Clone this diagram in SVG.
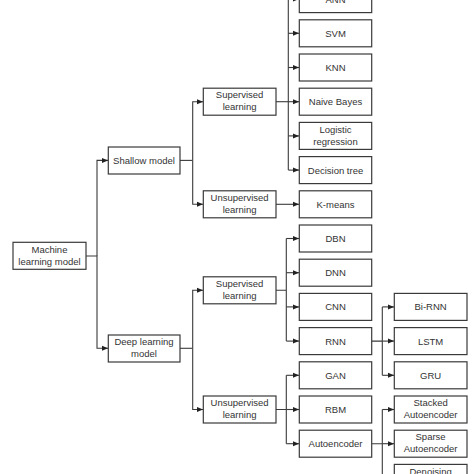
<svg xmlns="http://www.w3.org/2000/svg" width="474" height="474" viewBox="0 0 474 474">
<style>
.b rect{fill:#fff;stroke:#3a3a3a;stroke-width:1.2}
.b text{font-family:"Liberation Sans",Arial,sans-serif;font-size:9.5px;fill:#333;text-anchor:middle}
.c path{fill:none;stroke:#3a3a3a;stroke-width:1.1}
.c path.a{marker-end:url(#ah)}
</style>
<defs>
<marker id="ah" markerUnits="userSpaceOnUse" markerWidth="6" markerHeight="6" refX="6" refY="3" orient="auto">
<path d="M0,0.5 L6,3 L0,5.5 z" fill="#222"/>
</marker>
</defs>
<rect width="474" height="474" fill="#fff"/>
<g class="c">
<path d="M86,256 H97 V348"/>
<path class="a" d="M97,256 V160.4 H108"/>
<path class="a" d="M97,348 V348.3 H108"/>
<path d="M180,160.4 H192.7"/>
<path class="a" d="M192.7,160.4 V101.7 H203"/>
<path class="a" d="M192.7,160.4 V204.3 H203"/>
<path d="M180,348.3 H192.7"/>
<path class="a" d="M192.7,348.3 V290.3 H203"/>
<path class="a" d="M192.7,348.3 V409.5 H203"/>
<path d="M276,101.7 H288.3"/>
<path class="a" d="M288.3,0 V-0.9 H299"/>
<path d="M288.3,0 V170.1"/>
<path class="a" d="M288.3,33.3 H299"/>
<path class="a" d="M288.3,67.5 H299"/>
<path class="a" d="M288.3,101.7 H299"/>
<path class="a" d="M288.3,135.9 H299"/>
<path class="a" d="M288.3,170.1 H299"/>
<path class="a" d="M276,204.3 H299"/>
<path d="M276,290.3 H286.3 M286.3,238.5 V341.1"/>
<path class="a" d="M286.3,238.5 H299"/>
<path class="a" d="M286.3,272.7 H299"/>
<path class="a" d="M286.3,306.9 H299"/>
<path class="a" d="M286.3,341.1 H299"/>
<path d="M276,409.5 H286.3 M286.3,375.3 V443.7"/>
<path class="a" d="M286.3,375.3 H299"/>
<path class="a" d="M286.3,409.5 H299"/>
<path class="a" d="M286.3,443.7 H299"/>
<path d="M371.5,341.1 H382.3 M382.3,306.9 V375.3"/>
<path class="a" d="M382.3,306.9 H394"/>
<path class="a" d="M382.3,341.1 H394"/>
<path class="a" d="M382.3,375.3 H394"/>
<path d="M371.5,443.7 H382.3 M382.3,409.5 V474"/>
<path class="a" d="M382.3,409.5 H394"/>
<path class="a" d="M382.3,443.7 H394"/>
</g>
<g id="machine" class="b"><rect x="13" y="242.3" width="73" height="27"/><text x="49.5" y="252.5">Machine</text><text x="49.5" y="264.5">learning model</text></g>
<g id="shallow" class="b"><rect x="108.3" y="147" width="71.7" height="27"/><text x="144" y="163.8">Shallow model</text></g>
<g id="deep" class="b"><rect x="108.3" y="335" width="71.7" height="27"/><text x="144" y="345">Deep learning</text><text x="144" y="357">model</text></g>
<g id="sup1" class="b"><rect x="203.3" y="88.2" width="72.7" height="27"/><text x="239.6" y="98.4">Supervised</text><text x="239.6" y="110.4">learning</text></g>
<g id="unsup1" class="b"><rect x="203.3" y="190.8" width="72.7" height="27"/><text x="239.6" y="201">Unsupervised</text><text x="239.6" y="213">learning</text></g>
<g id="sup2" class="b"><rect x="203.3" y="276.8" width="72.7" height="27"/><text x="239.6" y="287">Supervised</text><text x="239.6" y="299">learning</text></g>
<g id="unsup2" class="b"><rect x="203.3" y="396" width="72.7" height="27"/><text x="239.6" y="406.2">Unsupervised</text><text x="239.6" y="418.2">learning</text></g>
<g id="ann" class="b"><rect x="299.3" y="-14.4" width="72.4" height="27"/><text x="335.5" y="2.5">ANN</text></g>
<g id="svm" class="b"><rect x="299.3" y="19.8" width="72.4" height="27"/><text x="335.5" y="36.7">SVM</text></g>
<g id="knn" class="b"><rect x="299.3" y="54" width="72.4" height="27"/><text x="335.5" y="70.9">KNN</text></g>
<g id="nb" class="b"><rect x="299.3" y="88.2" width="72.4" height="27"/><text x="335.5" y="105.1">Naive Bayes</text></g>
<g id="lr" class="b"><rect x="299.3" y="122.4" width="72.4" height="27"/><text x="335.5" y="132.6">Logistic</text><text x="335.5" y="144.6">regression</text></g>
<g id="dt" class="b"><rect x="299.3" y="156.6" width="72.4" height="27"/><text x="335.5" y="173.5">Decision tree</text></g>
<g id="kmeans" class="b"><rect x="299.3" y="190.8" width="72.4" height="27"/><text x="335.5" y="207.7">K-means</text></g>
<g id="dbn" class="b"><rect x="299.3" y="225" width="72.4" height="27"/><text x="335.5" y="241.9">DBN</text></g>
<g id="dnn" class="b"><rect x="299.3" y="259.2" width="72.4" height="27"/><text x="335.5" y="276.1">DNN</text></g>
<g id="cnn" class="b"><rect x="299.3" y="293.4" width="72.4" height="27"/><text x="335.5" y="310.3">CNN</text></g>
<g id="rnn" class="b"><rect x="299.3" y="327.6" width="72.4" height="27"/><text x="335.5" y="344.5">RNN</text></g>
<g id="gan" class="b"><rect x="299.3" y="361.8" width="72.4" height="27"/><text x="335.5" y="378.7">GAN</text></g>
<g id="rbm" class="b"><rect x="299.3" y="396" width="72.4" height="27"/><text x="335.5" y="412.9">RBM</text></g>
<g id="ae" class="b"><rect x="299.3" y="430.2" width="72.4" height="27"/><text x="335.5" y="447.1">Autoencoder</text></g>
<g id="birnn" class="b"><rect x="394.3" y="293.4" width="72.7" height="27"/><text x="430.6" y="310.3">Bi-RNN</text></g>
<g id="lstm" class="b"><rect x="394.3" y="327.6" width="72.7" height="27"/><text x="430.6" y="344.5">LSTM</text></g>
<g id="gru" class="b"><rect x="394.3" y="361.8" width="72.7" height="27"/><text x="430.6" y="378.7">GRU</text></g>
<g id="stacked" class="b"><rect x="394.3" y="396" width="72.7" height="27"/><text x="430.6" y="406.2">Stacked</text><text x="430.6" y="418.2">Autoencoder</text></g>
<g id="sparse" class="b"><rect x="394.3" y="430.2" width="72.7" height="27"/><text x="430.6" y="440.4">Sparse</text><text x="430.6" y="452.4">Autoencoder</text></g>
<g id="denoising" class="b"><rect x="394.3" y="464.4" width="72.7" height="27"/><text x="430.6" y="474.6">Denoising</text><text x="430.6" y="486.6">Autoencoder</text></g>
</svg>
